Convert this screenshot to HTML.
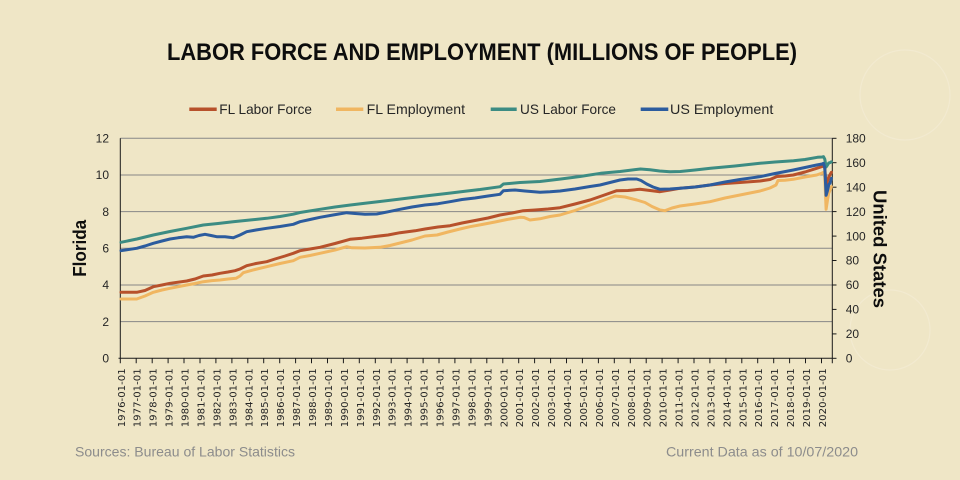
<!DOCTYPE html>
<html>
<head>
<meta charset="utf-8">
<style>
  html,body{margin:0;padding:0;background:#efe6c6;width:960px;height:480px;overflow:hidden;}
  svg{display:block;position:absolute;left:0;top:0;}
  text{font-family:"Liberation Sans",sans-serif;}
  .xl{font-family:"DejaVu Sans","Liberation Sans",sans-serif;font-size:9.3px;fill:#262626;}
  .tl{font-size:12px;fill:#262626;}
</style>
</head>
<body>
<svg width="960" height="480" viewBox="0 0 960 480" xmlns="http://www.w3.org/2000/svg">
  <rect x="0" y="0" width="960" height="480" fill="#efe6c6"/>
  <!-- faint decorative circles (kept inside frame) -->
  <g fill="none" stroke="#f2ead0" stroke-width="1.2">
    <circle cx="890" cy="330" r="40"/>
    <circle cx="905" cy="95" r="45"/>
  </g>

  <!-- Title -->
  <text x="482" y="60" text-anchor="middle" font-weight="bold" font-size="24" fill="#0d0d0d" textLength="630" lengthAdjust="spacingAndGlyphs">LABOR FORCE AND EMPLOYMENT (MILLIONS OF PEOPLE)</text>

  <!-- Legend -->
  <g stroke-width="3.5">
    <line x1="189.3" y1="109.3" x2="216.7" y2="109.3" stroke="#b7512b"/>
    <line x1="336" y1="109.3" x2="363.3" y2="109.3" stroke="#f0b661"/>
    <line x1="490.7" y1="109.3" x2="516.7" y2="109.3" stroke="#3c8c83"/>
    <line x1="640.7" y1="109.3" x2="668.3" y2="109.3" stroke="#2c5c9e"/>
  </g>
  <g font-size="14" fill="#262626">
    <text x="219.3" y="114" textLength="92.7" lengthAdjust="spacingAndGlyphs">FL Labor Force</text>
    <text x="366.7" y="114" textLength="98.3" lengthAdjust="spacingAndGlyphs">FL Employment</text>
    <text x="520" y="114" textLength="96" lengthAdjust="spacingAndGlyphs">US Labor Force</text>
    <text x="670" y="114" textLength="103.3" lengthAdjust="spacingAndGlyphs">US Employment</text>
  </g>

  <!-- Gridlines -->
  <g stroke="#878787" stroke-width="1">
    <line x1="120.3" y1="138.3" x2="832.3" y2="138.3"/>
    <line x1="120.3" y1="175" x2="832.3" y2="175"/>
    <line x1="120.3" y1="211.6" x2="832.3" y2="211.6"/>
    <line x1="120.3" y1="248.3" x2="832.3" y2="248.3"/>
    <line x1="120.3" y1="285" x2="832.3" y2="285"/>
    <line x1="120.3" y1="321.6" x2="832.3" y2="321.6"/>
  </g>

  <!-- Axes -->
  <g stroke="#1a1a1a" stroke-width="1">
    <line x1="120.3" y1="138.3" x2="120.3" y2="358.3"/>
    <line x1="832.3" y1="138.3" x2="832.3" y2="358.3"/>
    <line x1="118.5" y1="358.3" x2="832.3" y2="358.3"/>
    <line x1="832.3" y1="358.3" x2="836.5" y2="358.3"/>
    <line x1="832.3" y1="333.9" x2="836.5" y2="333.9"/>
    <line x1="832.3" y1="309.4" x2="836.5" y2="309.4"/>
    <line x1="832.3" y1="285" x2="836.5" y2="285"/>
    <line x1="832.3" y1="260.5" x2="836.5" y2="260.5"/>
    <line x1="832.3" y1="236.1" x2="836.5" y2="236.1"/>
    <line x1="832.3" y1="211.6" x2="836.5" y2="211.6"/>
    <line x1="832.3" y1="187.2" x2="836.5" y2="187.2"/>
    <line x1="832.3" y1="162.7" x2="836.5" y2="162.7"/>
    <line x1="832.3" y1="138.3" x2="836.5" y2="138.3"/>
  </g>
  <!-- x ticks -->
  <path stroke="#1a1a1a" stroke-width="1" d="M120.3 358.3v5 M136.2 358.3v5 M152.2 358.3v5 M168.1 358.3v5 M184 358.3v5 M200 358.3v5 M215.9 358.3v5 M231.9 358.3v5 M247.8 358.3v5 M263.7 358.3v5 M279.7 358.3v5 M295.6 358.3v5 M311.5 358.3v5 M327.5 358.3v5 M343.4 358.3v5 M359.3 358.3v5 M375.3 358.3v5 M391.2 358.3v5 M407.1 358.3v5 M423.1 358.3v5 M439 358.3v5 M454.9 358.3v5 M470.9 358.3v5 M486.8 358.3v5 M502.8 358.3v5 M518.7 358.3v5 M534.6 358.3v5 M550.6 358.3v5 M566.5 358.3v5 M582.4 358.3v5 M598.4 358.3v5 M614.3 358.3v5 M630.3 358.3v5 M646.2 358.3v5 M662.1 358.3v5 M678.1 358.3v5 M694 358.3v5 M709.9 358.3v5 M725.9 358.3v5 M741.8 358.3v5 M757.7 358.3v5 M773.7 358.3v5 M789.6 358.3v5 M805.5 358.3v5 M821.5 358.3v5 M832.3 358.3v5"/>

  <!-- Left tick labels -->
  <g class="tl" text-anchor="end">
    <text x="109" y="362.5" class="tl">0</text>
    <text x="109" y="325.8" class="tl">2</text>
    <text x="109" y="289.2" class="tl">4</text>
    <text x="109" y="252.5" class="tl">6</text>
    <text x="109" y="215.8" class="tl">8</text>
    <text x="109" y="179.2" class="tl">10</text>
    <text x="109" y="142.5" class="tl">12</text>
  </g>
  <!-- Right tick labels -->
  <g class="tl">
    <text x="845.7" y="362.5" class="tl">0</text>
    <text x="845.7" y="338.1" class="tl">20</text>
    <text x="845.7" y="313.6" class="tl">40</text>
    <text x="845.7" y="289.2" class="tl">60</text>
    <text x="845.7" y="264.7" class="tl">80</text>
    <text x="845.7" y="240.3" class="tl">100</text>
    <text x="845.7" y="215.8" class="tl">120</text>
    <text x="845.7" y="191.4" class="tl">140</text>
    <text x="845.7" y="166.9" class="tl">160</text>
    <text x="845.7" y="142.5" class="tl">180</text>
  </g>

  <!-- X labels -->
  <g class="xl" text-anchor="end">
    <text class="xl" transform="translate(124.8,368.3) rotate(-90)" textLength="59" lengthAdjust="spacingAndGlyphs">1976-01-01</text>
    <text class="xl" transform="translate(140.7,368.3) rotate(-90)" textLength="59" lengthAdjust="spacingAndGlyphs">1977-01-01</text>
    <text class="xl" transform="translate(156.7,368.3) rotate(-90)" textLength="59" lengthAdjust="spacingAndGlyphs">1978-01-01</text>
    <text class="xl" transform="translate(172.6,368.3) rotate(-90)" textLength="59" lengthAdjust="spacingAndGlyphs">1979-01-01</text>
    <text class="xl" transform="translate(188.5,368.3) rotate(-90)" textLength="59" lengthAdjust="spacingAndGlyphs">1980-01-01</text>
    <text class="xl" transform="translate(204.5,368.3) rotate(-90)" textLength="59" lengthAdjust="spacingAndGlyphs">1981-01-01</text>
    <text class="xl" transform="translate(220.4,368.3) rotate(-90)" textLength="59" lengthAdjust="spacingAndGlyphs">1982-01-01</text>
    <text class="xl" transform="translate(236.4,368.3) rotate(-90)" textLength="59" lengthAdjust="spacingAndGlyphs">1983-01-01</text>
    <text class="xl" transform="translate(252.3,368.3) rotate(-90)" textLength="59" lengthAdjust="spacingAndGlyphs">1984-01-01</text>
    <text class="xl" transform="translate(268.2,368.3) rotate(-90)" textLength="59" lengthAdjust="spacingAndGlyphs">1985-01-01</text>
    <text class="xl" transform="translate(284.2,368.3) rotate(-90)" textLength="59" lengthAdjust="spacingAndGlyphs">1986-01-01</text>
    <text class="xl" transform="translate(300.1,368.3) rotate(-90)" textLength="59" lengthAdjust="spacingAndGlyphs">1987-01-01</text>
    <text class="xl" transform="translate(316,368.3) rotate(-90)" textLength="59" lengthAdjust="spacingAndGlyphs">1988-01-01</text>
    <text class="xl" transform="translate(332,368.3) rotate(-90)" textLength="59" lengthAdjust="spacingAndGlyphs">1989-01-01</text>
    <text class="xl" transform="translate(347.9,368.3) rotate(-90)" textLength="59" lengthAdjust="spacingAndGlyphs">1990-01-01</text>
    <text class="xl" transform="translate(363.8,368.3) rotate(-90)" textLength="59" lengthAdjust="spacingAndGlyphs">1991-01-01</text>
    <text class="xl" transform="translate(379.8,368.3) rotate(-90)" textLength="59" lengthAdjust="spacingAndGlyphs">1992-01-01</text>
    <text class="xl" transform="translate(395.7,368.3) rotate(-90)" textLength="59" lengthAdjust="spacingAndGlyphs">1993-01-01</text>
    <text class="xl" transform="translate(411.6,368.3) rotate(-90)" textLength="59" lengthAdjust="spacingAndGlyphs">1994-01-01</text>
    <text class="xl" transform="translate(427.6,368.3) rotate(-90)" textLength="59" lengthAdjust="spacingAndGlyphs">1995-01-01</text>
    <text class="xl" transform="translate(443.5,368.3) rotate(-90)" textLength="59" lengthAdjust="spacingAndGlyphs">1996-01-01</text>
    <text class="xl" transform="translate(459.4,368.3) rotate(-90)" textLength="59" lengthAdjust="spacingAndGlyphs">1997-01-01</text>
    <text class="xl" transform="translate(475.4,368.3) rotate(-90)" textLength="59" lengthAdjust="spacingAndGlyphs">1998-01-01</text>
    <text class="xl" transform="translate(491.3,368.3) rotate(-90)" textLength="59" lengthAdjust="spacingAndGlyphs">1999-01-01</text>
    <text class="xl" transform="translate(507.3,368.3) rotate(-90)" textLength="59" lengthAdjust="spacingAndGlyphs">2000-01-01</text>
    <text class="xl" transform="translate(523.2,368.3) rotate(-90)" textLength="59" lengthAdjust="spacingAndGlyphs">2001-01-01</text>
    <text class="xl" transform="translate(539.1,368.3) rotate(-90)" textLength="59" lengthAdjust="spacingAndGlyphs">2002-01-01</text>
    <text class="xl" transform="translate(555.1,368.3) rotate(-90)" textLength="59" lengthAdjust="spacingAndGlyphs">2003-01-01</text>
    <text class="xl" transform="translate(571,368.3) rotate(-90)" textLength="59" lengthAdjust="spacingAndGlyphs">2004-01-01</text>
    <text class="xl" transform="translate(586.9,368.3) rotate(-90)" textLength="59" lengthAdjust="spacingAndGlyphs">2005-01-01</text>
    <text class="xl" transform="translate(602.9,368.3) rotate(-90)" textLength="59" lengthAdjust="spacingAndGlyphs">2006-01-01</text>
    <text class="xl" transform="translate(618.8,368.3) rotate(-90)" textLength="59" lengthAdjust="spacingAndGlyphs">2007-01-01</text>
    <text class="xl" transform="translate(634.8,368.3) rotate(-90)" textLength="59" lengthAdjust="spacingAndGlyphs">2008-01-01</text>
    <text class="xl" transform="translate(650.7,368.3) rotate(-90)" textLength="59" lengthAdjust="spacingAndGlyphs">2009-01-01</text>
    <text class="xl" transform="translate(666.6,368.3) rotate(-90)" textLength="59" lengthAdjust="spacingAndGlyphs">2010-01-01</text>
    <text class="xl" transform="translate(682.6,368.3) rotate(-90)" textLength="59" lengthAdjust="spacingAndGlyphs">2011-01-01</text>
    <text class="xl" transform="translate(698.5,368.3) rotate(-90)" textLength="59" lengthAdjust="spacingAndGlyphs">2012-01-01</text>
    <text class="xl" transform="translate(714.4,368.3) rotate(-90)" textLength="59" lengthAdjust="spacingAndGlyphs">2013-01-01</text>
    <text class="xl" transform="translate(730.4,368.3) rotate(-90)" textLength="59" lengthAdjust="spacingAndGlyphs">2014-01-01</text>
    <text class="xl" transform="translate(746.3,368.3) rotate(-90)" textLength="59" lengthAdjust="spacingAndGlyphs">2015-01-01</text>
    <text class="xl" transform="translate(762.2,368.3) rotate(-90)" textLength="59" lengthAdjust="spacingAndGlyphs">2016-01-01</text>
    <text class="xl" transform="translate(778.2,368.3) rotate(-90)" textLength="59" lengthAdjust="spacingAndGlyphs">2017-01-01</text>
    <text class="xl" transform="translate(794.1,368.3) rotate(-90)" textLength="59" lengthAdjust="spacingAndGlyphs">2018-01-01</text>
    <text class="xl" transform="translate(810,368.3) rotate(-90)" textLength="59" lengthAdjust="spacingAndGlyphs">2019-01-01</text>
    <text class="xl" transform="translate(826,368.3) rotate(-90)" textLength="59" lengthAdjust="spacingAndGlyphs">2020-01-01</text>
  </g>

  <!-- Axis titles -->
  <text transform="translate(86,248.3) rotate(-90)" text-anchor="middle" font-weight="bold" font-size="18" fill="#0d0d0d" textLength="57" lengthAdjust="spacingAndGlyphs">Florida</text>
  <text transform="translate(873.5,249) rotate(90)" text-anchor="middle" font-weight="bold" font-size="18" fill="#0d0d0d" textLength="118" lengthAdjust="spacingAndGlyphs">United States</text>

  <!-- Series -->
  <g fill="none" stroke-width="3" stroke-linejoin="round" stroke-linecap="round">
    <polyline stroke="#b7512b" points="121,292.3 136.7,292.3 145,290.5 153.3,286.7 162,285 170,283.3 186.7,281 195,279 203.3,276 212,275 220,273.3 228,272 235,270.7 240,269 246.7,265.7 256,263.5 266.7,261.7 275,259 285,256 293.3,253.3 300,250.7 310,249 320,247.3 335,243.5 350,239.3 362,238.2 375,236.5 388,235 400,232.7 415,230.8 425,229 438,227 450,225.7 462,223 475,220.5 488,218 500,215 512,213 523.3,210.7 535,210 548,209 560,207.7 575,204 590,200 603,195.5 616.7,190.7 628,190.5 640,189.3 650,190.5 660,191.7 670,190 680,188.3 695,187 710,185 725,183.5 740,182.5 760,181 770,179.5 777,176.5 785,176 793.3,175 805,172 816.7,168.3 822.2,166.5 823.5,166 824.8,168 826.1,186 827.5,181 828.8,177 830.1,174.5 831.4,172.3"/>
    <polyline stroke="#f0b661" points="121,299 136.7,299 145,296 153.3,292.3 162,290 170,288.3 186.7,285 195,283.5 203.3,281.7 212,280.6 220,280 228,279 236,278.3 240,276 243.3,272.7 255,269.5 266.7,266.7 280,263.5 293.3,260.7 300,257.3 310,255.5 320,253.3 335,250 346.7,246.7 352,247.8 365,248 380,247.3 390,245.5 400,243 412,240 425,236 437,235 448,232 460,229 470,226.7 482,224.5 495,222 507,219.5 520,217.3 524,217.5 530,220 540,218.8 550,216.5 560,215 575,210.5 590,205 603,200.5 615,196 625,197 636.7,200 645,202.5 652,206.5 660,210 665,210.7 672,208 680,206 695,204 710,201.7 725,198 740,195 760,191 770,188 776,185 778,180.5 785,180.3 793.3,179.3 805,177 816.7,175 822.2,173 823.5,172.3 824.8,177 826.1,209.3 827.5,200 828.8,193 830.1,190 831.4,186.7"/>
    <polyline stroke="#3c8c83" points="121,242.3 137,239 153.3,235 170,231.5 186.7,228.3 203.3,225 218,223.5 233,221.7 250,220 266.7,218.3 280,216.5 293.3,214.2 300,212.5 320,209.3 335,207 350.4,205 365,203.2 380,201.5 400.6,199 425,196 450.8,193 465,191.2 480,189.5 500.2,186.7 503.4,184 520,182.5 540,181.5 560.8,179 580,176.5 600.6,173.3 620,171.5 640.5,169 650,169.8 659.6,171 670,171.8 680.3,171.5 695,170 710.6,168.3 735,166 760,163.3 775,162 793.5,160.7 805,159.5 817.4,157.3 822.2,157 823.5,156.7 824.8,159.2 826.1,167 827.5,165 828.8,162.9 830.1,162.6 831.4,161.8"/>
    <polyline stroke="#2c5c9e" points="121,250.7 136.7,248.3 145,246 153.3,243.3 162,241 170,239 178,237.8 186.7,236.7 193.3,237.3 199,235.5 205,234.3 211,235.5 216.7,236.7 225,236.8 233.3,237.8 240,235 246.7,231.7 256,230 266.7,228.3 280,226.5 293.3,224.3 300,221.7 310,219.5 320,217.3 333,215 346.7,212.7 355,213.5 365,214.3 376.7,214 388,211.8 400,209.3 412,207 425,205 438,203.7 450,201.7 462,199.5 475,198 488,196 500,194.3 503.4,190.7 515,190 525,191 540,192.3 550,191.8 560,191 575,189 590,186.5 600,185 610,182.5 620,180 628,179 636.7,179 641,180.5 646.7,184 653,187 660,189.3 670,189 680,188.3 695,187 710,185 725,182 740,179.5 760,176.7 775,173.5 793.3,170 805,167.5 816.7,165 822.2,164 823.5,163.3 824.8,167.9 826.1,195.3 827.5,190.6 828.8,184.5 830.1,182.9 831.4,178.3"/>
  </g>

  <!-- Footer -->
  <text x="75" y="456.7" font-size="14" fill="#8c8c8c" textLength="220" lengthAdjust="spacingAndGlyphs">Sources: Bureau of Labor Statistics</text>
  <text x="666" y="456.7" font-size="14" fill="#8c8c8c" textLength="192" lengthAdjust="spacingAndGlyphs">Current Data as of 10/07/2020</text>
</svg>
</body>
</html>
